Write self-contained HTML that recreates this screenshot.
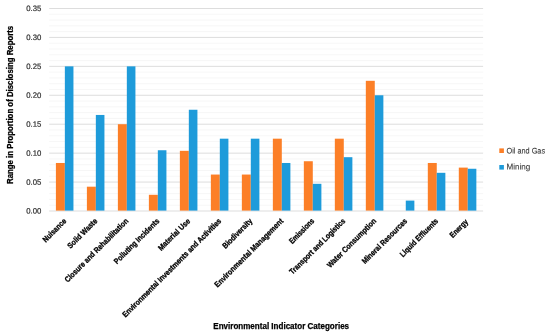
<!DOCTYPE html>
<html><head><meta charset="utf-8"><title>Environmental Indicator Categories</title>
<style>
html,body{margin:0;padding:0;background:#fff;}
svg{display:block;font-family:"Liberation Sans",sans-serif;}
.t{font-size:7.9px;fill:#333333;stroke:#333333;stroke-width:0.2px;}
.k{font-size:7.8px;}
.l{font-size:8.2px;fill:#3a3a3a;stroke-width:0.1px;}
.b{font-size:7.9px;font-weight:bold;fill:#000;stroke:#000;stroke-width:0.3px;}
.h{font-size:8.5px;font-weight:bold;fill:#000;stroke:#000;stroke-width:0.25px;}
</style></head><body>
<svg width="550" height="335" viewBox="0 0 550 335">
<rect width="550" height="335" fill="#fff"/>
<line x1="49.2" x2="483.1" y1="211.00" y2="211.00" stroke="#D9D9D9" stroke-width="0.9"/>
<line x1="49.2" x2="483.1" y1="205.21" y2="205.21" stroke="#F2F2F2" stroke-width="0.7"/>
<line x1="49.2" x2="483.1" y1="199.43" y2="199.43" stroke="#F2F2F2" stroke-width="0.7"/>
<line x1="49.2" x2="483.1" y1="193.64" y2="193.64" stroke="#F2F2F2" stroke-width="0.7"/>
<line x1="49.2" x2="483.1" y1="187.86" y2="187.86" stroke="#F2F2F2" stroke-width="0.7"/>
<line x1="49.2" x2="483.1" y1="182.07" y2="182.07" stroke="#D9D9D9" stroke-width="0.9"/>
<line x1="49.2" x2="483.1" y1="176.28" y2="176.28" stroke="#F2F2F2" stroke-width="0.7"/>
<line x1="49.2" x2="483.1" y1="170.50" y2="170.50" stroke="#F2F2F2" stroke-width="0.7"/>
<line x1="49.2" x2="483.1" y1="164.71" y2="164.71" stroke="#F2F2F2" stroke-width="0.7"/>
<line x1="49.2" x2="483.1" y1="158.93" y2="158.93" stroke="#F2F2F2" stroke-width="0.7"/>
<line x1="49.2" x2="483.1" y1="153.14" y2="153.14" stroke="#D9D9D9" stroke-width="0.9"/>
<line x1="49.2" x2="483.1" y1="147.35" y2="147.35" stroke="#F2F2F2" stroke-width="0.7"/>
<line x1="49.2" x2="483.1" y1="141.57" y2="141.57" stroke="#F2F2F2" stroke-width="0.7"/>
<line x1="49.2" x2="483.1" y1="135.78" y2="135.78" stroke="#F2F2F2" stroke-width="0.7"/>
<line x1="49.2" x2="483.1" y1="130.00" y2="130.00" stroke="#F2F2F2" stroke-width="0.7"/>
<line x1="49.2" x2="483.1" y1="124.21" y2="124.21" stroke="#D9D9D9" stroke-width="0.9"/>
<line x1="49.2" x2="483.1" y1="118.42" y2="118.42" stroke="#F2F2F2" stroke-width="0.7"/>
<line x1="49.2" x2="483.1" y1="112.64" y2="112.64" stroke="#F2F2F2" stroke-width="0.7"/>
<line x1="49.2" x2="483.1" y1="106.85" y2="106.85" stroke="#F2F2F2" stroke-width="0.7"/>
<line x1="49.2" x2="483.1" y1="101.07" y2="101.07" stroke="#F2F2F2" stroke-width="0.7"/>
<line x1="49.2" x2="483.1" y1="95.28" y2="95.28" stroke="#D9D9D9" stroke-width="0.9"/>
<line x1="49.2" x2="483.1" y1="89.49" y2="89.49" stroke="#F2F2F2" stroke-width="0.7"/>
<line x1="49.2" x2="483.1" y1="83.71" y2="83.71" stroke="#F2F2F2" stroke-width="0.7"/>
<line x1="49.2" x2="483.1" y1="77.92" y2="77.92" stroke="#F2F2F2" stroke-width="0.7"/>
<line x1="49.2" x2="483.1" y1="72.14" y2="72.14" stroke="#F2F2F2" stroke-width="0.7"/>
<line x1="49.2" x2="483.1" y1="66.35" y2="66.35" stroke="#D9D9D9" stroke-width="0.9"/>
<line x1="49.2" x2="483.1" y1="60.56" y2="60.56" stroke="#F2F2F2" stroke-width="0.7"/>
<line x1="49.2" x2="483.1" y1="54.78" y2="54.78" stroke="#F2F2F2" stroke-width="0.7"/>
<line x1="49.2" x2="483.1" y1="48.99" y2="48.99" stroke="#F2F2F2" stroke-width="0.7"/>
<line x1="49.2" x2="483.1" y1="43.21" y2="43.21" stroke="#F2F2F2" stroke-width="0.7"/>
<line x1="49.2" x2="483.1" y1="37.42" y2="37.42" stroke="#D9D9D9" stroke-width="0.9"/>
<line x1="49.2" x2="483.1" y1="31.63" y2="31.63" stroke="#F2F2F2" stroke-width="0.7"/>
<line x1="49.2" x2="483.1" y1="25.85" y2="25.85" stroke="#F2F2F2" stroke-width="0.7"/>
<line x1="49.2" x2="483.1" y1="20.06" y2="20.06" stroke="#F2F2F2" stroke-width="0.7"/>
<line x1="49.2" x2="483.1" y1="14.28" y2="14.28" stroke="#F2F2F2" stroke-width="0.7"/>
<line x1="49.2" x2="483.1" y1="8.49" y2="8.49" stroke="#D9D9D9" stroke-width="0.9"/>
<text class="t k" transform="translate(41.4,213.60) rotate(0.05)" text-anchor="end" textLength="15.14" lengthAdjust="spacingAndGlyphs">0.00</text>
<text class="t k" transform="translate(41.4,184.67) rotate(0.05)" text-anchor="end" textLength="15.14" lengthAdjust="spacingAndGlyphs">0.05</text>
<text class="t k" transform="translate(41.4,155.74) rotate(0.05)" text-anchor="end" textLength="15.14" lengthAdjust="spacingAndGlyphs">0.10</text>
<text class="t k" transform="translate(41.4,126.81) rotate(0.05)" text-anchor="end" textLength="15.14" lengthAdjust="spacingAndGlyphs">0.15</text>
<text class="t k" transform="translate(41.4,97.88) rotate(0.05)" text-anchor="end" textLength="15.14" lengthAdjust="spacingAndGlyphs">0.20</text>
<text class="t k" transform="translate(41.4,68.95) rotate(0.05)" text-anchor="end" textLength="15.14" lengthAdjust="spacingAndGlyphs">0.25</text>
<text class="t k" transform="translate(41.4,40.02) rotate(0.05)" text-anchor="end" textLength="15.14" lengthAdjust="spacingAndGlyphs">0.30</text>
<text class="t k" transform="translate(41.4,11.09) rotate(0.05)" text-anchor="end" textLength="15.14" lengthAdjust="spacingAndGlyphs">0.35</text>
<rect x="55.90" y="162.98" width="8.95" height="47.62" fill="#FC7F27"/>
<rect x="64.85" y="66.35" width="8.60" height="144.25" fill="#1E9BDA"/>
<rect x="86.89" y="186.70" width="8.95" height="23.90" fill="#FC7F27"/>
<rect x="95.84" y="114.95" width="8.60" height="95.65" fill="#1E9BDA"/>
<rect x="117.88" y="124.21" width="8.95" height="86.39" fill="#FC7F27"/>
<rect x="126.83" y="66.35" width="8.60" height="144.25" fill="#1E9BDA"/>
<rect x="148.88" y="194.80" width="8.95" height="15.80" fill="#FC7F27"/>
<rect x="157.83" y="150.25" width="8.60" height="60.35" fill="#1E9BDA"/>
<rect x="179.87" y="150.83" width="8.95" height="59.77" fill="#FC7F27"/>
<rect x="188.82" y="109.75" width="8.60" height="100.85" fill="#1E9BDA"/>
<rect x="210.86" y="174.55" width="8.95" height="36.05" fill="#FC7F27"/>
<rect x="219.81" y="138.68" width="8.60" height="71.92" fill="#1E9BDA"/>
<rect x="241.85" y="174.55" width="8.95" height="36.05" fill="#FC7F27"/>
<rect x="250.80" y="138.68" width="8.60" height="71.92" fill="#1E9BDA"/>
<rect x="272.85" y="138.68" width="8.95" height="71.92" fill="#FC7F27"/>
<rect x="281.80" y="162.98" width="8.60" height="47.62" fill="#1E9BDA"/>
<rect x="303.84" y="161.24" width="8.95" height="49.36" fill="#FC7F27"/>
<rect x="312.79" y="183.81" width="8.60" height="26.79" fill="#1E9BDA"/>
<rect x="334.83" y="138.68" width="8.95" height="71.92" fill="#FC7F27"/>
<rect x="343.78" y="157.19" width="8.60" height="53.41" fill="#1E9BDA"/>
<rect x="365.82" y="80.81" width="8.95" height="129.78" fill="#FC7F27"/>
<rect x="374.77" y="95.28" width="8.60" height="115.32" fill="#1E9BDA"/>
<rect x="405.77" y="200.59" width="8.60" height="10.01" fill="#1E9BDA"/>
<rect x="427.81" y="162.98" width="8.95" height="47.62" fill="#FC7F27"/>
<rect x="436.76" y="172.81" width="8.60" height="37.79" fill="#1E9BDA"/>
<rect x="458.80" y="167.60" width="8.95" height="43.00" fill="#FC7F27"/>
<rect x="467.75" y="168.76" width="8.60" height="41.84" fill="#1E9BDA"/>
<text class="b" transform="translate(66.85,221.60) rotate(-45)" text-anchor="end" textLength="29.81" lengthAdjust="spacingAndGlyphs">Nuisance</text>
<text class="b" transform="translate(97.84,221.60) rotate(-45)" text-anchor="end" textLength="38.63" lengthAdjust="spacingAndGlyphs">Solid Waste</text>
<text class="b" transform="translate(128.83,221.60) rotate(-45)" text-anchor="end" textLength="86.51" lengthAdjust="spacingAndGlyphs">Closure and Rehabilitation</text>
<text class="b" transform="translate(159.83,221.60) rotate(-45)" text-anchor="end" textLength="60.67" lengthAdjust="spacingAndGlyphs">Polluting Incidents</text>
<text class="b" transform="translate(190.82,221.60) rotate(-45)" text-anchor="end" textLength="41.97" lengthAdjust="spacingAndGlyphs">Material Use</text>
<text class="b" transform="translate(221.81,221.60) rotate(-45)" text-anchor="end" textLength="136.08" lengthAdjust="spacingAndGlyphs">Environmental Investments and Activities</text>
<text class="b" transform="translate(252.80,221.60) rotate(-45)" text-anchor="end" textLength="38.70" lengthAdjust="spacingAndGlyphs">Biodiversity</text>
<text class="b" transform="translate(283.80,221.60) rotate(-45)" text-anchor="end" textLength="93.64" lengthAdjust="spacingAndGlyphs">Environmental Management</text>
<text class="b" transform="translate(314.79,221.60) rotate(-45)" text-anchor="end" textLength="31.95" lengthAdjust="spacingAndGlyphs">Emissions</text>
<text class="b" transform="translate(345.78,221.60) rotate(-45)" text-anchor="end" textLength="75.18" lengthAdjust="spacingAndGlyphs">Transport and Logistics</text>
<text class="b" transform="translate(376.77,221.60) rotate(-45)" text-anchor="end" textLength="65.93" lengthAdjust="spacingAndGlyphs">Water Consumption</text>
<text class="b" transform="translate(407.77,221.60) rotate(-45)" text-anchor="end" textLength="60.48" lengthAdjust="spacingAndGlyphs">Mineral Resources</text>
<text class="b" transform="translate(438.76,221.60) rotate(-45)" text-anchor="end" textLength="50.62" lengthAdjust="spacingAndGlyphs">Liquid Effluents</text>
<text class="b" transform="translate(468.55,222.40) rotate(-45)" text-anchor="end" textLength="22.25" lengthAdjust="spacingAndGlyphs">Energy</text>
<text class="h" transform="translate(13.1,104.9) rotate(-90)" text-anchor="middle" textLength="158.25" lengthAdjust="spacingAndGlyphs">Range in Proportion of Disclosing Reports</text>
<text class="h" x="281.2" y="329.2" text-anchor="middle" textLength="135.76" lengthAdjust="spacingAndGlyphs">Environmental Indicator Categories</text>
<rect x="499.3" y="148.4" width="4.6" height="4.6" fill="#FC7F27"/>
<text class="t l" transform="translate(506.5,153.5) rotate(0.05)" textLength="38.57" lengthAdjust="spacingAndGlyphs">Oil and Gas</text>
<rect x="499.3" y="165.0" width="4.6" height="4.6" fill="#1E9BDA"/>
<text class="t l" transform="translate(506.5,169.6) rotate(0.05)" textLength="23.77" lengthAdjust="spacingAndGlyphs">Mining</text>
</svg></body></html>
